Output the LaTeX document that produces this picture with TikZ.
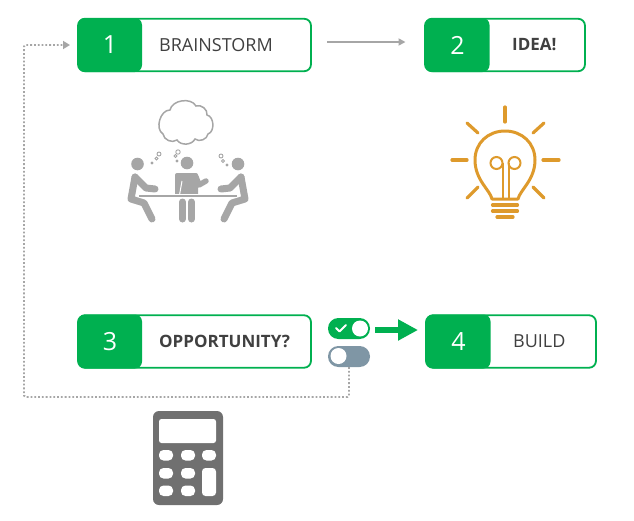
\documentclass[tikz,border=0pt]{standalone}
\usepackage{fontspec}
\setmainfont{Open Sans}
\usetikzlibrary{arrows.meta}
\definecolor{stepgreen}{HTML}{00B050}
\definecolor{stepgray}{HTML}{A6A6A6}
\definecolor{steptext}{HTML}{404040}
\definecolor{bulbgold}{HTML}{DE9A2C}
\definecolor{calcgray}{HTML}{707070}
\definecolor{offslate}{HTML}{7F96A5}
\tikzset{
  stepbox/.style  = { draw=stepgreen, line width=1.8pt, fill=white, rounded corners=7pt, minimum height=52.5pt, inner sep=0pt, outer sep=0pt },
  stepnum/.style  = { fill=stepgreen, text=white, rounded corners=7pt, minimum width=64pt, minimum height=54pt, inner sep=0pt, font=\fontsize{25}{25}\selectfont },
  steplabel/.style= { anchor=west, inner sep=0pt, text=steptext, font=\fontsize{18}{18}\selectfont },
  boldlabel/.style= { steplabel, font=\fontsize{17}{17}\selectfont\bfseries },
  toggle/.style   = { rounded corners=10.4pt, minimum width=42pt, minimum height=21pt, inner sep=0pt, outer sep=0pt },
  knob/.style     = { circle, fill=white, minimum size=16pt, inner sep=0pt },
  thinarrow/.style= { draw=stepgray, line width=1.7pt, -{Triangle[length=7pt,width=7pt]} },
  looparrow/.style= { draw=stepgray, line width=1.8pt, dash pattern=on 1.8pt off 2pt, rounded corners=1.5pt, -{Triangle[length=7pt,width=8pt]} },
  goarrow/.style  = { draw=stepgreen, line width=6.5pt, -{Triangle[length=20pt,width=20pt]} },
  limb/.style     = { draw=stepgray, line width=7pt, line cap=round, line join=round },
  bubble/.style   = { draw=stepgray, line width=0.9pt, fill=white },
  ray/.style      = { draw=bulbgold, line width=3.2pt, line cap=round },
  bulb/.style     = { draw=bulbgold, line width=3pt, line join=round },
  filament/.style = { draw=bulbgold, line width=2pt },
  calckey/.style  = { fill=white, rounded corners=4.5pt }
}
\begin{document}
\begin{tikzpicture}[x=1pt,y=-1pt]
    \useasboundingbox (0,0) rectangle (634,520);

    \node[stepbox, minimum width=233pt] (bsbox) at (194.5,45) {};
    \node[stepnum] (bsnum) at (110,45) {1};
    \node[steplabel] (bstext) at (159,45) {BRAINSTORM};

    \node[stepbox, minimum width=160pt] (ideabox) at (505,45) {};
    \node[stepnum] (ideanum) at (457.5,45) {2};
    \node[boldlabel] (ideatext) at (512,45) {IDEA!};

    \node[stepbox, minimum width=233pt] (oppbox) at (194.5,341.5) {};
    \node[stepnum] (oppnum) at (110,341.5) {3};
    \node[boldlabel] (opptext) at (159,341.5) {OPPORTUNITY?};

    \node[stepbox, minimum width=170pt] (buildbox) at (511,341.5) {};
    \node[stepnum] (buildnum) at (458.5,341.5) {4};
    \node[steplabel] (buildtext) at (513,341.5) {BUILD};

    \node[toggle, fill=stepgreen] (yes) at (349,328.5) {};
    \node[knob] (yesknob) at (360,328.5) {};
    \draw[white, line width=1.9pt, line cap=round, line join=round] (336,328) -- (339.5,331.5) -- (346,325);
    \node[toggle, fill=offslate] (no) at (349,356.5) {};
    \node[knob] (noknob) at (338.5,356) {};

    \coordinate (bsout) at (327,42);
    \coordinate (ideain) at (405.5,42);
    \coordinate (yesout) at (375,330);
    \coordinate (buildin) at (418,330);
    \coordinate (loopb) at (24,397);

    \draw[thinarrow] (bsout) -- (ideain);
    \draw[goarrow] (yesout) -- (buildin);
    \draw[looparrow, shorten >=8pt] (no.south) |- (loopb) |- (bsbox.west);

    %% Draw cloud and people
    \draw[draw=stepgray, line width=1.5pt, fill=white] (163,134) to[bend left=75] (170,110) to[bend left=70] (196,106)
      to[bend left=60] (207,115) to[bend left=75] (208,134) to[bend left=60] (195,139) to[bend left=60] (177,140) to[bend left=60] (163,134);

    \draw[bubble] (159,154) circle (2);
    \draw[bubble] (156.5,158.5) circle (1.4);
    \draw[bubble] (152,163) circle (1);
    \draw[bubble] (178,152) circle (2.2);
    \draw[bubble] (175.5,156) circle (1.5);
    \draw[bubble] (177,161) circle (1);
    \draw[bubble] (221,156) circle (2);
    \draw[bubble] (223,161) circle (1.4);
    \draw[bubble] (227,165) circle (1);

    \fill[stepgray] (137.5,164) circle (6.3);
    \draw[limb] (135,177) -- (131,199) -- (144,203) -- (152,219);
    \draw[limb] (135,177) -- (146,188) -- (155,189);

    \fill[stepgray] (238,164) circle (6.3);
    \draw[limb] (241,177) -- (245,199) -- (232,203) -- (224,219);
    \draw[limb] (241,177) -- (230,188) -- (221,189);

    \fill[stepgray] (187,163) circle (6.3);
    \fill[stepgray, rounded corners=2pt] (175,173) rectangle (198,197);
    \draw[limb, line width=5.5pt] (196,177) -- (199,185) -- (206,181);
    \draw[limb] (182.5,202) -- (182.5,219);
    \draw[limb] (191.5,202) -- (191.5,219);
    \draw[white, line width=1pt] (182,181) -- (179.5,195);

    \draw[white, line width=4.5pt] (139,196) -- (237,196);
    \draw[stepgray, line width=2.5pt] (139,196) -- (237,196);

    %% Draw bulb
    \draw[ray] (505,107) -- (505,122);
    \draw[ray] (467,123) -- (478,133);
    \draw[ray] (544,123) -- (533,133);
    \draw[ray] (452,160) -- (467,160);
    \draw[ray] (543,160) -- (559,160);
    \draw[ray] (478,187) -- (467,198);
    \draw[ray] (533,187) -- (544,198);

    \draw[bulb] (492,199) .. controls (490,190) and (475,180) .. (475,160) .. controls (475,143) and (488,131) .. (505,131)
      .. controls (522,131) and (535,143) .. (535,160) .. controls (535,180) and (520,190) .. (518,199) -- cycle;
    \draw[filament] (496.5,163) circle (6);
    \draw[filament] (514.5,163) circle (6);
    \draw[filament] (502.5,198) -- (502.5,163);
    \draw[filament] (508.5,198) -- (508.5,163);
    \draw[ray] (492.5,205) -- (517.5,205);
    \draw[ray] (492.5,211) -- (517.5,211);
    \draw[ray] (497,217) -- (513,217);

    %% Draw calculator
    \fill[calcgray, rounded corners=6pt] (153,411) rectangle (223,505);
    \fill[white, rounded corners=2.5pt] (159,419) rectangle (216,443);
    \fill[calckey] (159,450) rectangle (173,460.5);
    \fill[calckey] (181,450) rectangle (195,460.5);
    \fill[calckey] (202,450) rectangle (216,460.5);
    \fill[calckey] (159,468) rectangle (173,478.5);
    \fill[calckey] (181,468) rectangle (195,478.5);
    \fill[calckey] (159,485.5) rectangle (173,496);
    \fill[calckey] (181,485.5) rectangle (195,496);
    \fill[white, rounded corners=3.5pt] (202,468) rectangle (216,496);
\end{tikzpicture}
\end{document}
